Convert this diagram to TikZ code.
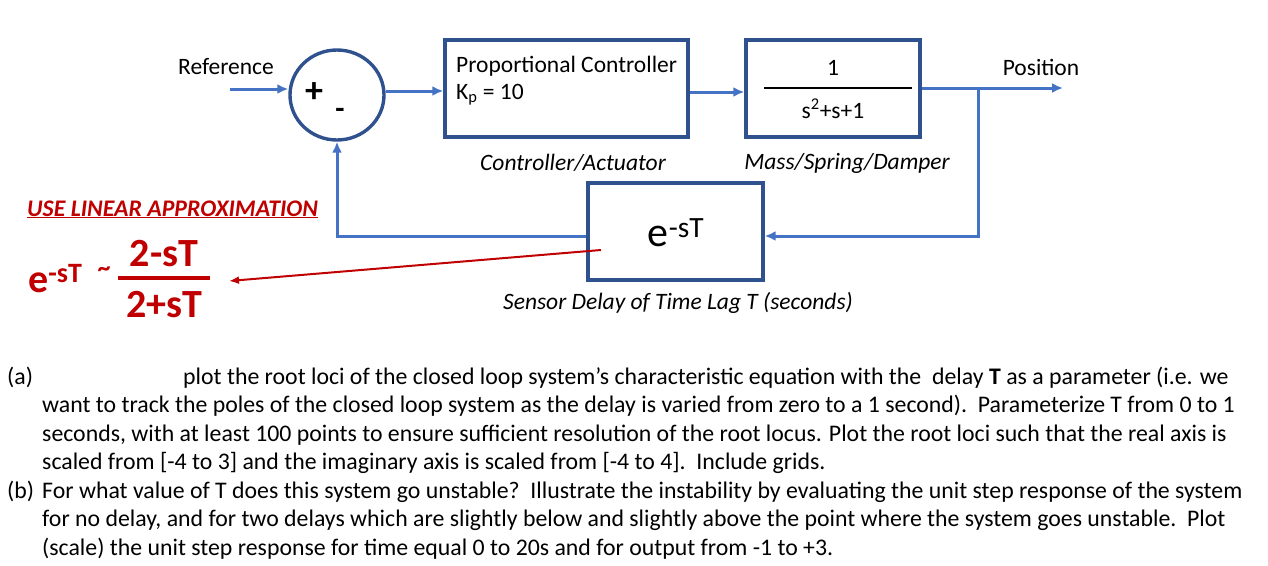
\documentclass[tikz,border=0pt]{standalone}
\usepackage{fontspec}
\setmainfont{Carlito}
\usetikzlibrary{arrows.meta,shapes.geometric}
\definecolor{lblue}{RGB}{68,114,196}
\definecolor{dblue}{RGB}{47,82,143}
\definecolor{dred}{RGB}{192,0,0}
\tikzset{
  x=1pt, y=-1pt,
  blk/.style={draw=dblue, line width=3.4pt, inner sep=0pt},
  wire/.style={draw=lblue, line width=3pt, -{Latex[length=11pt,width=10pt]}},
  lbl/.style={font=\fontsize{23.5}{28}\selectfont\itshape},
  dtx/.style={font=\fontsize{23.5}{28}\selectfont},
  txt/.style={anchor=base west, inner sep=0pt, font=\fontsize{23.8}{28}\selectfont},
  big/.style={text=dred, inner sep=0pt, font=\fontsize{40}{40}\selectfont\bfseries},
}
\begin{document}
\begin{tikzpicture}
\useasboundingbox (0,0) rectangle (1268,565);
% blocks
\node[blk, ellipse, minimum width=94, minimum height=90] (sum) at (337,95) {};
\node[font=\fontsize{36}{36}\selectfont\bfseries] (plus) at (314,93) {+};
\node[font=\fontsize{30}{30}\selectfont\bfseries] (minus) at (340,113) {-};
\node[blk, minimum width=243, minimum height=97] (ctrl) at (566.5,88.5) {};
\node[anchor=base west, inner sep=0pt, dtx] (ctxt) at (456,72) {Proportional Controller};
\node[anchor=base west, inner sep=0pt, dtx] (kp) at (456,99) {K\textsubscript{p} = 10};
\node[blk, minimum width=174, minimum height=97] (plant) at (833,88.5) {};
\node[dtx] (num) at (833,68) {1};
\node[dtx] (den) at (833,109) {s\textsuperscript{2}+s+1};
\draw[line width=1.4pt] (764,88) -- (912,88);
\node[blk, minimum width=175, minimum height=97] (delay) at (675.5,231.5) {};
\node[font=\fontsize{42}{42}\selectfont] (dtxt) at (676,233) {e\textsuperscript{-sT}};
% labels
\node[dtx] (ref) at (226,67) {Reference};
\node[dtx] (pos) at (1041,67) {Position};
\node[lbl] (l1) at (573,163) {Controller/Actuator};
\node[lbl] (l2) at (847,163) {Mass/Spring/Damper};
\node[lbl] (l3) at (678,303) {Sensor Delay of Time Lag T (seconds)};
% connectors
\coordinate (rin) at (230,89);
\coordinate (pout) at (1063,88);
\coordinate (br) at (978,88);
\draw[wire] (rin) -- (sum.west |- rin);
\draw[wire] (sum.east |- 0,91) -- (ctrl.west |- 0,91);
\draw[wire] (ctrl.east |- 0,92) -- (plant.west |- 0,92);
\draw[wire] (plant.east |- br) -- (pout);
\draw[wire] (br) |- (delay.east |- 0,236);
\draw[wire] (delay.west |- 0,236) -| (sum.south);
% approximation
\node[anchor=base west, inner sep=0pt, text=dred, font=\fontsize{23.8}{28}\selectfont\bfseries\itshape] (use) at (27,216) {\underline{USE LINEAR APPROXIMATION}};
\node[big, anchor=base west] (ex) at (28,292) {e\textsuperscript{-sT}};
\node[text=dred, inner sep=0pt, font=\fontsize{26}{26}\selectfont\bfseries] (tl) at (104,272) {\textasciitilde};
\node[big, anchor=base] (fn) at (164,266) {2-sT};
\node[big, anchor=base] (fd) at (164,317) {2+sT};
\draw[dred, line width=4pt] (118,278) -- (210,278);
\coordinate (rs) at (601,250);
\coordinate (re) at (229,281);
\draw[dred, line width=2pt, -{Latex[length=10pt,width=8pt]}] (rs) -- (re);
% text
\node[txt] (a) at (7,384) {(a)};
\node[txt] (a1) at (183,384) {plot the root loci of the closed loop system’s characteristic equation with the\ \ delay \textbf{T} as a parameter (i.e. we};
\node[txt] (a2) at (42,412) {want to track the poles of the closed loop system as the delay is varied from zero to a 1 second).\ \ Parameterize T from 0 to 1};
\node[txt] (a3) at (42,441) {seconds, with at least 100 points to ensure sufficient resolution of the root locus. Plot the root loci such that the real axis is};
\node[txt] (a4) at (42,469) {scaled from [-4 to 3] and the imaginary axis is scaled from [-4 to 4].\ \ Include grids.};
\node[txt] (b) at (7,498) {(b)};
\node[txt] (b1) at (42,498) {For what value of T does this system go unstable?\ \ Illustrate the instability by evaluating the unit step response of the system};
\node[txt] (b2) at (42,526) {for no delay, and for two delays which are slightly below and slightly above the point where the system goes unstable.\ \ Plot};
\node[txt] (b3) at (42,555) {(scale) the unit step response for time equal 0 to 20s and for output from -1 to +3.};
\end{tikzpicture}
\end{document}
